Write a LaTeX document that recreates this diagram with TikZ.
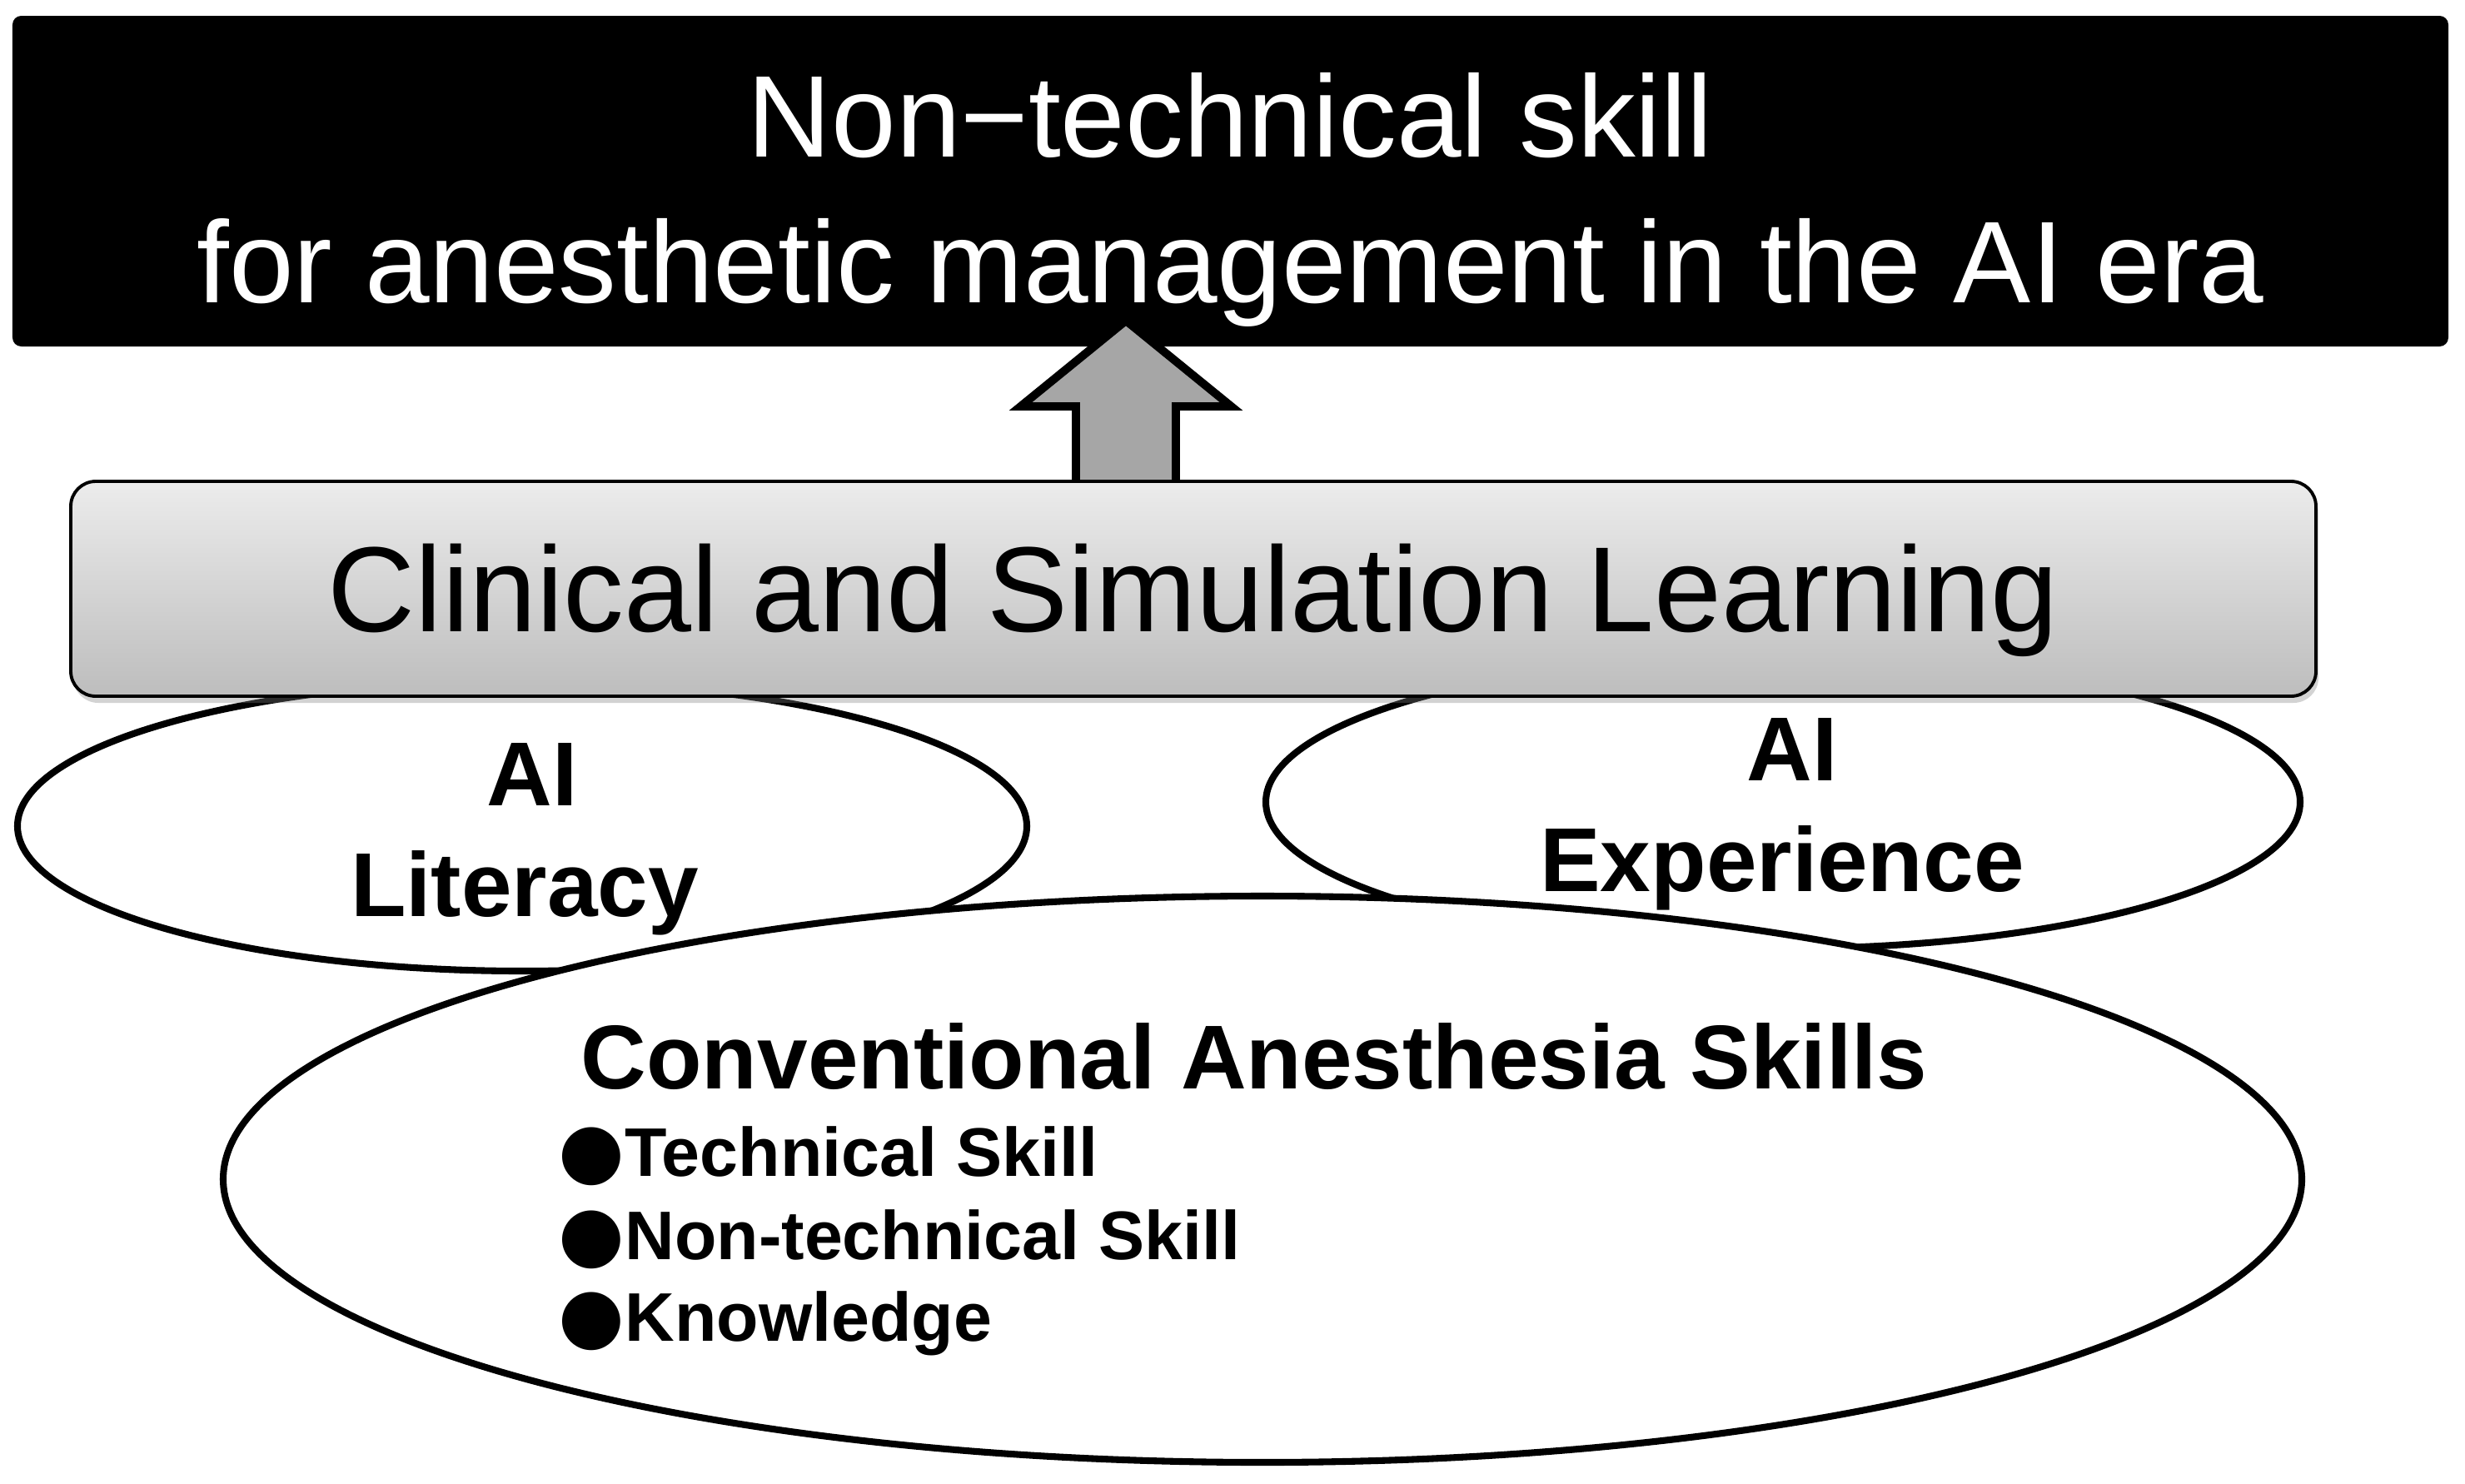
\documentclass[tikz,border=0pt]{standalone}
\usepackage{fontspec}
\setmainfont{Liberation Sans}
\newfontfamily\symfont{DejaVu Sans}
\usetikzlibrary{shapes.geometric,shadows}
\definecolor{boxtop}{HTML}{ECECEC}
\definecolor{boxbottom}{HTML}{BDBDBD}
\definecolor{arrowgray}{HTML}{A6A6A6}
\newcommand{\dotmark}{{\symfont\fontsize{26}{28}\selectfont ●}}

\begin{document}
\begin{tikzpicture}[
    oval/.style = {draw, ellipse, fill=white, line width=2.3pt, inner sep=0pt},
    lbl/.style = {anchor=base, inner sep=0pt, font=\fontsize{31}{37}\selectfont\bfseries},
    item/.style = {anchor=base west, inner sep=0pt, font=\fontsize{23.5}{28}\selectfont\bfseries},
    headline/.style = {anchor=base, inner sep=0pt, text=white, font=\fontsize{39.7}{47}\selectfont}]
    \useasboundingbox (0,0) rectangle (29.6,-17.81);

    \node[fill=black, rounded corners=3pt, minimum width=29.25cm, minimum height=3.97cm] (title) at (14.775,-2.175) {};
    \node[headline] (t1) at (14.775,-1.88) {Non−technical skill};
    \node[headline] (t2) at (14.775,-3.63) {for anesthetic management in the AI era};

    \coordinate (foot) at (13.52,-5.85);
    \draw[line width=2.8pt, fill=arrowgray, line join=miter]
      (foot) ++(-0.60,0) -- ++(0,0.97) -- ++(-0.665,0) -- ++(1.265,1.03)
      -- ++(1.265,-1.03) -- ++(-0.665,0) -- ++(0,-0.97) -- cycle;

    \node[oval, minimum width=12.12cm, minimum height=3.48cm] (lit) at (6.27,-9.92) {};
    \node[oval, minimum width=12.42cm, minimum height=3.52cm] (exp) at (21.41,-9.63) {};

    \node[draw, line width=1.1pt, rounded corners=0.3cm, top color=boxtop, bottom color=boxbottom,
      drop shadow={shadow xshift=0.03cm, shadow yshift=-0.08cm, opacity=0.35},
      minimum width=26.96cm, minimum height=2.58cm, text height=1.12cm, text depth=0.1cm,
      font=\fontsize{41.4}{48}\selectfont] (learn) at (14.33,-7.07) {Clinical and Simulation Learning};

    \node[oval, minimum width=24.96cm, minimum height=6.80cm] (conv) at (15.16,-14.16) {};

    \node[lbl] (litA) at (6.39,-9.67) {AI};
    \node[lbl] (litB) at (6.30,-11.00) {Literacy};
    \node[lbl] (expA) at (21.52,-9.37) {AI};
    \node[lbl] (expB) at (21.40,-10.70) {Experience};
    \node[lbl] (convT) at (15.06,-13.07) {Conventional Anesthesia Skills};

    \node[item] (tech) at (6.70,-14.12) {\dotmark Technical Skill};
    \node[item] (ntech) at (6.70,-15.12) {\dotmark Non-technical Skill};
    \node[item] (know) at (6.70,-16.10) {\dotmark Knowledge};
  \end{tikzpicture}
\end{document}
